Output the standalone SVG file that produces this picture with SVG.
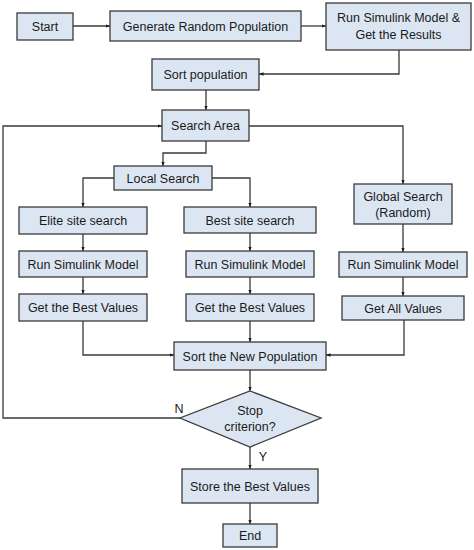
<svg xmlns="http://www.w3.org/2000/svg" width="474" height="550" viewBox="0 0 474 550">
<style>
.n{fill:#dce6f2;stroke:#3a3a3a;stroke-width:1.3}
.t{font-family:"Liberation Sans",Arial,sans-serif;font-size:12.5px;fill:#1a1a1a;text-anchor:middle}
.c{fill:none;stroke:#3a3a3a;stroke-width:1.3}
</style>
<defs>
<marker id="a" viewBox="0 0 10 10" refX="10" refY="5" markerWidth="4.5" markerHeight="4.5" orient="auto" markerUnits="userSpaceOnUse">
<path d="M0,1 L10,5 L0,9 z" fill="#1a1a1a"/>
</marker>
</defs>
<rect width="474" height="550" fill="#ffffff"/>
<g id="connectors">
<path class="c" d="M73,26 H110" marker-end="url(#a)"/>
<path class="c" d="M301,26 H326" marker-end="url(#a)"/>
<path class="c" d="M399,50 V74 H259" marker-end="url(#a)"/>
<path class="c" d="M206,90 V110" marker-end="url(#a)"/>
<path class="c" d="M206,141 V153 H163 V166" marker-end="url(#a)"/>
<path class="c" d="M249,126 H403 V184" marker-end="url(#a)"/>
<path class="c" d="M114,178 H83 V207" marker-end="url(#a)"/>
<path class="c" d="M212,178 H250 V207" marker-end="url(#a)"/>
<path class="c" d="M83,234 V251" marker-end="url(#a)"/>
<path class="c" d="M250,233 V251" marker-end="url(#a)"/>
<path class="c" d="M403,224 V252" marker-end="url(#a)"/>
<path class="c" d="M83,277 V294" marker-end="url(#a)"/>
<path class="c" d="M250,277 V294" marker-end="url(#a)"/>
<path class="c" d="M403,277 V296" marker-end="url(#a)"/>
<path class="c" d="M83,321 V355 H174" marker-end="url(#a)"/>
<path class="c" d="M250,321 V342" marker-end="url(#a)"/>
<path class="c" d="M404,320 V355 H326" marker-end="url(#a)"/>
<path class="c" d="M250,370 V391" marker-end="url(#a)"/>
<path class="c" d="M180,418 H3 V126 H162" marker-end="url(#a)"/>
<path class="c" d="M250,447 V469" marker-end="url(#a)"/>
<path class="c" d="M250,503 V524" marker-end="url(#a)"/>
<text class="t" x="179" y="413">N</text>
<text class="t" x="263" y="461">Y</text>
</g>
<g id="start"><rect class="n" x="17" y="13" width="56" height="27"/><text class="t" x="45" y="30.5">Start</text></g>
<g id="generate"><rect class="n" x="110" y="11" width="191" height="30"/><text class="t" x="205.5" y="30.5">Generate Random Population</text></g>
<g id="run-initial"><rect class="n" x="326" y="3" width="145" height="47"/><text class="t" x="398.5" y="22">Run Simulink Model &amp;</text><text class="t" x="398.5" y="39">Get the Results</text></g>
<g id="sort"><rect class="n" x="152" y="59" width="107" height="31"/><text class="t" x="205.5" y="79">Sort population</text></g>
<g id="search-area"><rect class="n" x="162" y="110" width="87" height="31"/><text class="t" x="205.5" y="130">Search Area</text></g>
<g id="local-search"><rect class="n" x="114" y="166" width="98" height="24"/><text class="t" x="163" y="182.5">Local Search</text></g>
<g id="global-search"><rect class="n" x="354" y="184" width="98" height="40"/><text class="t" x="403" y="201">Global Search</text><text class="t" x="403" y="217">(Random)</text></g>
<g id="elite"><rect class="n" x="19" y="207" width="128" height="27"/><text class="t" x="83" y="225">Elite site search</text></g>
<g id="best"><rect class="n" x="184" y="207" width="132" height="26"/><text class="t" x="250" y="224.5">Best site search</text></g>
<g id="run-left"><rect class="n" x="19" y="251" width="128" height="26"/><text class="t" x="83" y="268.5">Run Simulink Model</text></g>
<g id="run-mid"><rect class="n" x="186" y="251" width="128" height="26"/><text class="t" x="250" y="268.5">Run Simulink Model</text></g>
<g id="run-right"><rect class="n" x="339" y="252" width="128" height="25"/><text class="t" x="403" y="269">Run Simulink Model</text></g>
<g id="best-left"><rect class="n" x="19" y="294" width="128" height="27"/><text class="t" x="83" y="312">Get the Best Values</text></g>
<g id="best-mid"><rect class="n" x="186" y="294" width="128" height="27"/><text class="t" x="250" y="312">Get the Best Values</text></g>
<g id="all-values"><rect class="n" x="342" y="296" width="122" height="24"/><text class="t" x="403" y="312.5">Get All Values</text></g>
<g id="sort-new"><rect class="n" x="174" y="342" width="152" height="28"/><text class="t" x="250" y="360.5">Sort the New Population</text></g>
<g id="stop"><path class="n" d="M250,391 L321,418 L250,447 L180,418 Z"/><text class="t" x="250" y="415">Stop</text><text class="t" x="250" y="431">criterion?</text></g>
<g id="store"><rect class="n" x="182" y="469" width="136" height="34"/><text class="t" x="250" y="490.5">Store the Best Values</text></g>
<g id="end"><rect class="n" x="223" y="524" width="54" height="23"/><text class="t" x="250" y="540">End</text></g>
</svg>
